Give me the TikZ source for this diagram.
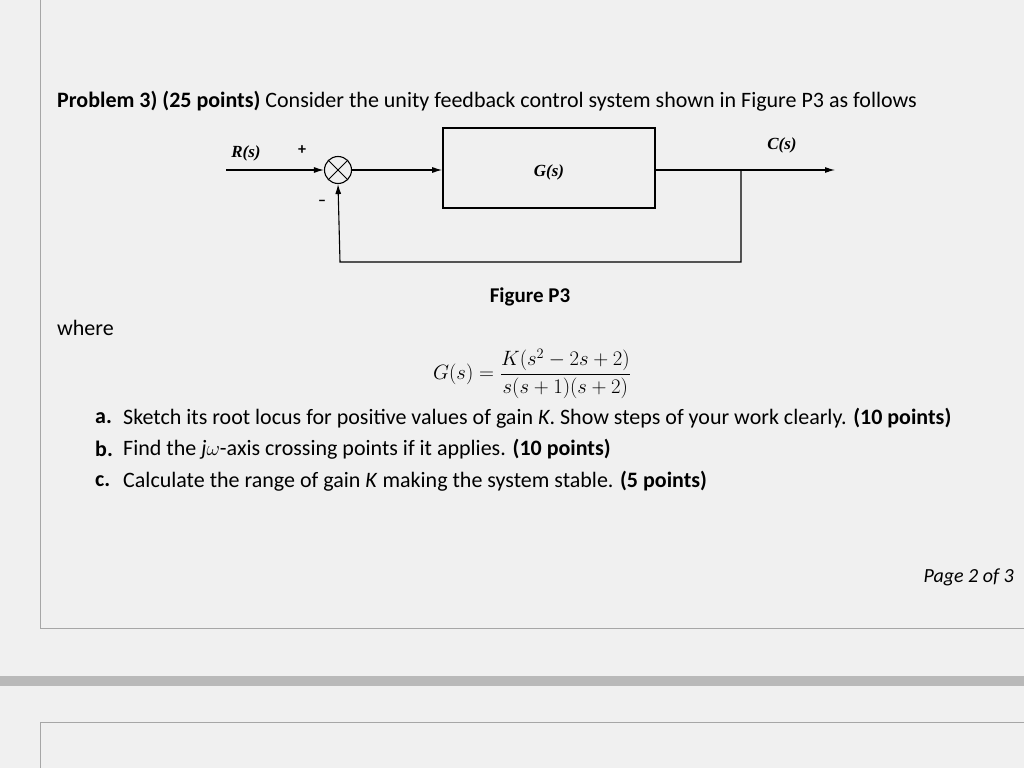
\documentclass[tikz,border=0pt]{standalone}
\usepackage{fontspec}
\setmainfont{Carlito}
\newfontfamily\tms{Liberation Serif}
\usetikzlibrary{arrows.meta}
\begin{document}
\begin{tikzpicture}[x=1pt,y=-1pt,
  wire/.style={line width=1.1pt},
  arr/.style={wire,-{Latex[length=10pt,width=6pt]}},
  lbl/.style={font=\tms\bfseries\itshape\fontsize{17}{20}\selectfont},
  txt/.style={anchor=west,font=\fontsize{22}{26}\selectfont,inner sep=0}]
\fill[gray!12] (0,0) rectangle (1024,768);
\useasboundingbox (0,0) rectangle (1024,768);
\draw[gray!70,line width=0.8pt] (40,0) -- (40,628) -- (1024,628);
\fill[gray!55] (0,676) rectangle (1024,686);
\draw[gray!70,line width=0.8pt] (1024,722) -- (40,722) -- (40,768);
\node[txt] (title) at (57,101) {\textbf{Problem 3) (25 points)} Consider the unity feedback control system shown in Figure P3 as follows};
% block diagram
\coordinate (in) at (226,170);
\node[draw,circle,line width=1.1pt,minimum size=27pt,inner sep=0] (sum) at (338,170) {};
\draw[line width=1pt] (sum.north west) -- (sum.south east) (sum.north east) -- (sum.south west);
\node[draw,line width=1.6pt,minimum width=212pt,minimum height=80pt] (G) at (549,168) {};
\node[lbl] (gl) at (549,172) {G(s)};
\node[lbl] (rl) at (246,153) {R(s)};
\node[lbl] (cl) at (782,145) {C(s)};
\node[font=\bfseries\fontsize{16}{18}\selectfont] (plus) at (302,150) {+};
\node[font=\bfseries\fontsize{16}{18}\selectfont] (minus) at (322,203) {\textendash};
\draw[arr] (in) -- (sum.west);
\draw[arr] (sum.east) -- (G.west|-sum.east);
\coordinate (out) at (835,170);
\coordinate (br) at (741,170);
\coordinate (c1) at (741,262);
\coordinate (c2) at (340,262);
\draw[arr] (G.east|-out) -- (out);
\draw[arr] (br) -- (c1) -- (c2) -- (sum.south);
\node[font=\bfseries\fontsize{21}{24}\selectfont] (fig) at (530,297) {Figure P3};
\node[txt] (where) at (57,328) {where};
\node[font=\fontsize{21}{25}\selectfont] (eq) at (532,374) {$G(s)=\displaystyle\frac{K(s^2-2s+2)}{s(s+1)(s+2)}$};
\node[txt] (a) at (95,418) {\textbf{a.}};
\node[txt] (at) at (123,418) {Sketch its root locus for positive values of gain \textit{K}. Show steps of your work clearly. \textbf{(10 points)}};
\node[txt] (b) at (95,449) {\textbf{b.}};
\node[txt] (bt) at (123,449) {Find the \textit{j$\omega$}-axis crossing points if it applies. \textbf{(10 points)}};
\node[txt] (c) at (95,481) {\textbf{c.}};
\node[txt] (ct) at (123,481) {Calculate the range of gain \textit{K} making the system stable. \textbf{(5 points)}};
\node[txt,anchor=east,font=\fontsize{20}{24}\selectfont] (pg) at (1014,577) {\textit{Page 2 of 3}};
\end{tikzpicture}
\end{document}
